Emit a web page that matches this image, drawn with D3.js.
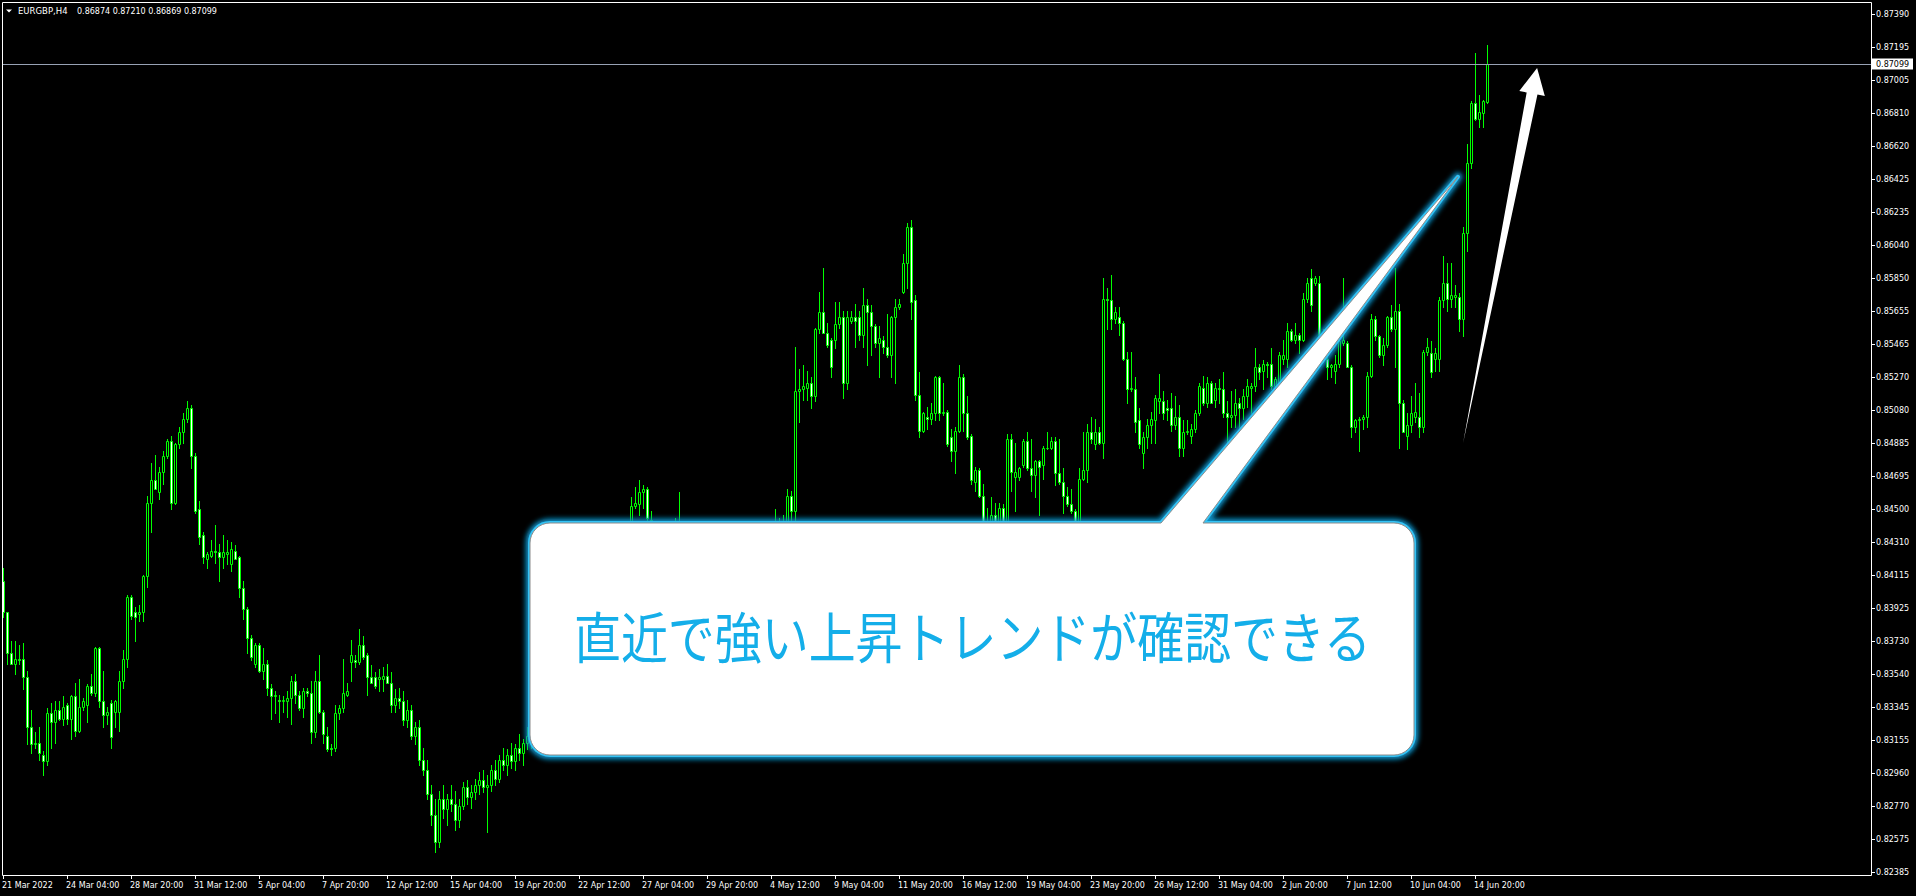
<!DOCTYPE html>
<html><head><meta charset="utf-8">
<script src="https://cdn.jsdelivr.net/npm/d3@7"></script>
<style>html,body{margin:0;padding:0;background:#000;overflow:hidden}</style>
</head><body>
<svg id="c" width="1916" height="896"></svg>
<script>
const SYMBOL = "EURGBP,H4";
const HEADER_OHLC = ["0.86874", "0.87210", "0.86869", "0.87099"];
const LAST_PRICE = 0.87099;
const CALLOUT_TEXT = "直近で強い上昇トレンドが確認できる";
const LABEL_STEP = 16; // bars between time labels
const TIME_LABELS = ["21 Mar 2022","24 Mar 04:00","28 Mar 20:00","31 Mar 12:00","5 Apr 04:00","7 Apr 20:00",
  "12 Apr 12:00","15 Apr 04:00","19 Apr 20:00","22 Apr 12:00","27 Apr 04:00","29 Apr 20:00","4 May 12:00",
  "9 May 04:00","11 May 20:00","16 May 12:00","19 May 04:00","23 May 20:00","26 May 12:00","31 May 04:00",
  "2 Jun 20:00","7 Jun 12:00","10 Jun 04:00","14 Jun 20:00"];
const PRICE_TICKS = [0.87390,0.87195,0.87005,0.86810,0.86620,0.86425,0.86235,0.86040,0.85850,0.85655,
  0.85465,0.85270,0.85080,0.84885,0.84695,0.84500,0.84310,0.84115,0.83925,0.83730,0.83540,0.83345,
  0.83155,0.82960,0.82770,0.82575,0.82385];

const OPEN = [0.8408,0.8390,0.8366,0.8360,0.8363,0.8363,0.8352,0.8323,0.8313,0.8314,
0.8307,0.8303,0.8331,0.8326,0.8333,0.8328,0.8336,0.8328,0.8341,0.8321,
0.8335,0.8336,0.8347,0.8343,0.8369,0.8338,0.8330,0.8337,0.8332,0.8332,
0.8350,0.8363,0.8399,0.8390,0.8389,0.8390,0.8411,0.8454,0.8467,0.8460,
0.8472,0.8481,0.8490,0.8454,0.8488,0.8495,0.8503,0.8509,0.8481,0.8450,
0.8435,0.8421,0.8423,0.8426,0.8425,0.8422,0.8424,0.8418,0.8426,0.8422,
0.8404,0.8392,0.8375,0.8360,0.8371,0.8356,0.8360,0.8346,0.8341,0.8339,
0.8338,0.8338,0.8340,0.8350,0.8342,0.8334,0.8344,0.8343,0.8320,0.8350,
0.8332,0.8318,0.8311,0.8311,0.8331,0.8334,0.8342,0.8361,0.8362,0.8361,
0.8371,0.8365,0.8352,0.8352,0.8351,0.8351,0.8353,0.8349,0.8336,0.8340,
0.8338,0.8327,0.8333,0.8318,0.8323,0.8304,0.8298,0.8284,0.8272,0.8256,
0.8281,0.8275,0.8281,0.8278,0.8269,0.8277,0.8288,0.8282,0.8285,0.8289,
0.8292,0.8288,0.8289,0.8298,0.8293,0.8304,0.8301,0.8307,0.8303,0.8311,
0.8308,0.8314,0.8318,0.8313,0.8321,0.8324,0.8321,0.8327,0.8336,0.8342,
0.8354,0.8348,0.8359,0.8365,0.8362,0.8377,0.8386,0.8383,0.8394,0.8403,
0.8400,0.8412,0.8409,0.8418,0.8426,0.8424,0.8429,0.8432,0.8452,0.8453,
0.8460,0.8462,0.8444,0.8432,0.8424,0.8428,0.8422,0.8415,0.8424,0.8429,
0.8425,0.8416,0.8406,0.8398,0.8403,0.8408,0.8403,0.8394,0.8398,0.8406,
0.8402,0.8409,0.8415,0.8412,0.8419,0.8418,0.8424,0.8428,0.8425,0.8429,
0.8432,0.8429,0.8435,0.8438,0.8443,0.8441,0.8438,0.8458,0.8449,0.8519,
0.8520,0.8521,0.8524,0.8516,0.8555,0.8565,0.8553,0.8549,0.8549,0.8558,
0.8562,0.8524,0.8560,0.8562,0.8562,0.8552,0.8569,0.8565,0.8557,0.8547,
0.8549,0.8545,0.8540,0.8562,0.8568,0.8577,0.8594,0.8615,0.8572,0.8517,
0.8496,0.8504,0.8503,0.8506,0.8527,0.8506,0.8507,0.8492,0.8484,0.8496,
0.8527,0.8506,0.8493,0.8466,0.8473,0.8458,0.8438,0.8435,0.8447,0.8438,
0.8451,0.8441,0.8491,0.8469,0.8469,0.8476,0.8490,0.8474,0.8470,0.8478,
0.8476,0.8486,0.8486,0.8490,0.8471,0.8466,0.8458,0.8453,0.8449,0.8437,
0.8468,0.8473,0.8495,0.8488,0.8495,0.8489,0.8573,0.8572,0.8561,0.8562,
0.8559,0.8538,0.8520,0.8520,0.8502,0.8483,0.8492,0.8499,0.8502,0.8513,
0.8513,0.8509,0.8509,0.8499,0.8504,0.8486,0.8495,0.8493,0.8497,0.8506,
0.8521,0.8512,0.8524,0.8514,0.8521,0.8520,0.8506,0.8504,0.8505,0.8512,
0.8509,0.8516,0.8521,0.8522,0.8533,0.8531,0.8535,0.8535,0.8522,0.8524,
0.8538,0.8538,0.8554,0.8549,0.8552,0.8549,0.8573,0.8585,0.8582,0.8582,
0.8551,0.8538,0.8533,0.8531,0.8535,0.8547,0.8547,0.8533,0.8498,0.8502,
0.8503,0.8504,0.8528,0.8561,0.8551,0.8540,0.8546,0.8562,0.8555,0.8566,
0.8512,0.8493,0.8499,0.8504,0.8504,0.8498,0.8542,0.8541,0.8538,0.8538,
0.8572,0.8582,0.8573,0.8574,0.8574,0.8561,0.8611,0.8652,0.8687,0.8678,
0.8681,0.86874];

const HIGH = [0.8416,0.8390,0.8373,0.8373,0.8371,0.8372,0.8356,0.8333,0.8320,0.8323,
0.8309,0.8334,0.8337,0.8338,0.8338,0.8341,0.8337,0.8342,0.8349,0.8351,
0.8340,0.8348,0.8354,0.8370,0.8370,0.8356,0.8335,0.8339,0.8339,0.8356,
0.8368,0.8400,0.8400,0.8393,0.8394,0.8412,0.8458,0.8477,0.8482,0.8475,
0.8484,0.8491,0.8493,0.8489,0.8498,0.8506,0.8513,0.8511,0.8483,0.8455,
0.8437,0.8425,0.8432,0.8441,0.8430,0.8435,0.8432,0.8431,0.8429,0.8423,
0.8408,0.8393,0.8377,0.8372,0.8372,0.8369,0.8362,0.8348,0.8344,0.8342,
0.8341,0.8344,0.8353,0.8354,0.8344,0.8346,0.8346,0.8350,0.8356,0.8365,
0.8333,0.8323,0.8313,0.8336,0.8336,0.8363,0.8349,0.8374,0.8365,0.8380,
0.8376,0.8366,0.8359,0.8355,0.8357,0.8358,0.8360,0.8355,0.8345,0.8346,
0.8344,0.8339,0.8336,0.8326,0.8327,0.8311,0.8304,0.8289,0.8281,0.8286,
0.8289,0.8284,0.8289,0.8286,0.8281,0.8291,0.8292,0.8289,0.8293,0.8297,
0.8298,0.8295,0.8301,0.8304,0.8307,0.8311,0.8310,0.8314,0.8313,0.8319,
0.8316,0.8323,0.8326,0.8324,0.8328,0.8332,0.8330,0.8339,0.8345,0.8356,
0.8359,0.8362,0.8368,0.8374,0.8380,0.8389,0.8394,0.8397,0.8406,0.8412,
0.8415,0.8424,0.8421,0.8429,0.8435,0.8433,0.8438,0.8457,0.8463,0.8467,
0.8464,0.8463,0.8449,0.8439,0.8432,0.8435,0.8429,0.8426,0.8445,0.8460,
0.8433,0.8424,0.8415,0.8409,0.8412,0.8418,0.8414,0.8403,0.8409,0.8415,
0.8412,0.8421,0.8424,0.8422,0.8429,0.8428,0.8432,0.8435,0.8433,0.8438,
0.8439,0.8438,0.8441,0.8450,0.8445,0.8447,0.8462,0.8461,0.8545,0.8532,
0.8534,0.8531,0.8527,0.8556,0.8577,0.8591,0.8559,0.8550,0.8571,0.8571,
0.8566,0.8566,0.8566,0.8570,0.8566,0.8579,0.8573,0.8569,0.8558,0.8557,
0.8551,0.8564,0.8563,0.8573,0.8573,0.8599,0.8617,0.8619,0.8575,0.8530,
0.8507,0.8510,0.8512,0.8528,0.8528,0.8524,0.8508,0.8497,0.8498,0.8534,
0.8529,0.8516,0.8494,0.8475,0.8474,0.8465,0.8451,0.8457,0.8454,0.8454,
0.8453,0.8494,0.8494,0.8489,0.8475,0.8491,0.8495,0.8491,0.8479,0.8479,
0.8487,0.8495,0.8492,0.8492,0.8491,0.8474,0.8463,0.8462,0.8450,0.8474,
0.8495,0.8500,0.8504,0.8503,0.8498,0.8585,0.8579,0.8587,0.8568,0.8568,
0.8560,0.8542,0.8542,0.8527,0.8509,0.8495,0.8503,0.8507,0.8517,0.8529,
0.8519,0.8514,0.8518,0.8516,0.8511,0.8502,0.8502,0.8500,0.8508,0.8524,
0.8528,0.8527,0.8525,0.8524,0.8526,0.8530,0.8513,0.8519,0.8520,0.8515,
0.8520,0.8526,0.8524,0.8544,0.8535,0.8537,0.8536,0.8544,0.8527,0.8542,
0.8549,0.8559,0.8555,0.8559,0.8553,0.8576,0.8585,0.8590,0.8586,0.8586,
0.8555,0.8539,0.8535,0.8540,0.8551,0.8585,0.8548,0.8534,0.8503,0.8504,
0.8505,0.8530,0.8564,0.8563,0.8552,0.8550,0.8563,0.8569,0.8591,0.8570,
0.8514,0.8506,0.8516,0.8524,0.8518,0.8543,0.8550,0.8548,0.8544,0.8574,
0.8598,0.8594,0.8594,0.8581,0.8576,0.8615,0.8663,0.8688,0.8716,0.8692,
0.8689,0.87210];

const LOW = [0.8387,0.8360,0.8360,0.8354,0.8360,0.8345,0.8313,0.8308,0.8311,0.8304,
0.8295,0.8301,0.8311,0.8314,0.8327,0.8324,0.8325,0.8316,0.8318,0.8320,
0.8333,0.8326,0.8342,0.8341,0.8335,0.8323,0.8325,0.8311,0.8323,0.8321,
0.8346,0.8358,0.8386,0.8373,0.8385,0.8385,0.8405,0.8437,0.8462,0.8456,
0.8465,0.8480,0.8450,0.8453,0.8486,0.8489,0.8501,0.8474,0.8448,0.8430,
0.8419,0.8416,0.8422,0.8419,0.8408,0.8416,0.8418,0.8414,0.8421,0.8399,
0.8386,0.8366,0.8362,0.8358,0.8355,0.8351,0.8342,0.8328,0.8331,0.8326,
0.8332,0.8329,0.8325,0.8337,0.8333,0.8329,0.8341,0.8314,0.8317,0.8331,
0.8314,0.8309,0.8307,0.8309,0.8328,0.8332,0.8341,0.8350,0.8358,0.8360,
0.8363,0.8342,0.8349,0.8346,0.8344,0.8344,0.8349,0.8332,0.8332,0.8334,
0.8324,0.8323,0.8316,0.8313,0.8301,0.8295,0.8281,0.8266,0.8250,0.8253,
0.8270,0.8266,0.8274,0.8263,0.8265,0.8275,0.8278,0.8276,0.8281,0.8284,
0.8285,0.8262,0.8286,0.8289,0.8291,0.8298,0.8295,0.8299,0.8298,0.8304,
0.8301,0.8310,0.8311,0.8309,0.8317,0.8318,0.8316,0.8324,0.8332,0.8339,
0.8345,0.8345,0.8355,0.8359,0.8361,0.8371,0.8380,0.8379,0.8391,0.8398,
0.8397,0.8406,0.8403,0.8415,0.8421,0.8418,0.8425,0.8429,0.8451,0.8447,
0.8451,0.8442,0.8429,0.8421,0.8415,0.8419,0.8412,0.8409,0.8418,0.8421,
0.8412,0.8403,0.8394,0.8388,0.8397,0.8400,0.8391,0.8386,0.8394,0.8397,
0.8390,0.8403,0.8406,0.8408,0.8415,0.8410,0.8418,0.8421,0.8419,0.8424,
0.8426,0.8425,0.8429,0.8435,0.8438,0.8432,0.8435,0.8444,0.8442,0.8501,
0.8514,0.8514,0.8509,0.8513,0.8553,0.8553,0.8545,0.8527,0.8544,0.8556,
0.8515,0.8520,0.8559,0.8545,0.8549,0.8545,0.8534,0.8540,0.8545,0.8527,
0.8541,0.8539,0.8527,0.8524,0.8567,0.8576,0.8579,0.8561,0.8514,0.8492,
0.8495,0.8497,0.8500,0.8502,0.8502,0.8505,0.8487,0.8478,0.8471,0.8495,
0.8496,0.8491,0.8465,0.8461,0.8457,0.8432,0.8429,0.8429,0.8432,0.8433,
0.8438,0.8438,0.8461,0.8449,0.8467,0.8475,0.8473,0.8461,0.8457,0.8447,
0.8468,0.8485,0.8485,0.8464,0.8465,0.8448,0.8452,0.8448,0.8432,0.8432,
0.8467,0.8466,0.8489,0.8485,0.8488,0.8480,0.8555,0.8555,0.8559,0.8552,
0.8537,0.8512,0.8519,0.8495,0.8486,0.8474,0.8486,0.8489,0.8489,0.8506,
0.8503,0.8502,0.8496,0.8497,0.8481,0.8481,0.8494,0.8489,0.8495,0.8505,
0.8511,0.8510,0.8512,0.8510,0.8512,0.8504,0.8489,0.8498,0.8498,0.8498,
0.8503,0.8510,0.8506,0.8519,0.8526,0.8520,0.8527,0.8520,0.8521,0.8523,
0.8535,0.8533,0.8548,0.8547,0.8541,0.8548,0.8571,0.8566,0.8581,0.8549,
0.8536,0.8526,0.8527,0.8524,0.8533,0.8546,0.8533,0.8492,0.8495,0.8484,
0.8497,0.8498,0.8527,0.8549,0.8539,0.8534,0.8545,0.8554,0.8533,0.8486,
0.8495,0.8485,0.8495,0.8501,0.8492,0.8495,0.8540,0.8527,0.8531,0.8531,
0.8568,0.8566,0.8568,0.8568,0.8554,0.8551,0.8601,0.8649,0.8677,0.8673,
0.8673,0.86869];

const CLOSE = [0.8390,0.8366,0.8360,0.8363,0.8362,0.8352,0.8323,0.8313,0.8314,0.8308,
0.8303,0.8331,0.8326,0.8333,0.8328,0.8335,0.8328,0.8341,0.8321,0.8335,
0.8338,0.8347,0.8343,0.8369,0.8338,0.8330,0.8332,0.8317,0.8338,0.8350,
0.8363,0.8399,0.8388,0.8387,0.8390,0.8411,0.8454,0.8467,0.8462,0.8472,
0.8481,0.8490,0.8454,0.8488,0.8495,0.8503,0.8509,0.8481,0.8449,0.8434,
0.8422,0.8424,0.8426,0.8425,0.8422,0.8425,0.8425,0.8427,0.8421,0.8404,
0.8392,0.8375,0.8364,0.8371,0.8356,0.8360,0.8346,0.8341,0.8342,0.8338,
0.8339,0.8340,0.8350,0.8342,0.8334,0.8344,0.8343,0.8320,0.8350,0.8332,
0.8319,0.8310,0.8310,0.8331,0.8334,0.8343,0.8344,0.8365,0.8361,0.8371,
0.8364,0.8352,0.8349,0.8347,0.8352,0.8353,0.8349,0.8336,0.8340,0.8338,
0.8327,0.8333,0.8318,0.8323,0.8304,0.8298,0.8284,0.8272,0.8256,0.8281,
0.8275,0.8281,0.8278,0.8269,0.8277,0.8288,0.8282,0.8285,0.8289,0.8292,
0.8288,0.8289,0.8298,0.8293,0.8304,0.8301,0.8307,0.8303,0.8311,0.8308,
0.8314,0.8318,0.8313,0.8321,0.8324,0.8321,0.8327,0.8336,0.8342,0.8354,
0.8348,0.8359,0.8365,0.8362,0.8377,0.8386,0.8383,0.8394,0.8403,0.8400,
0.8412,0.8409,0.8418,0.8426,0.8424,0.8429,0.8432,0.8452,0.8454,0.8460,
0.8462,0.8445,0.8432,0.8424,0.8428,0.8422,0.8415,0.8424,0.8429,0.8425,
0.8416,0.8406,0.8398,0.8403,0.8408,0.8403,0.8394,0.8398,0.8406,0.8402,
0.8409,0.8415,0.8412,0.8419,0.8418,0.8424,0.8428,0.8425,0.8429,0.8432,
0.8429,0.8435,0.8438,0.8443,0.8441,0.8438,0.8458,0.8449,0.8519,0.8520,
0.8522,0.8524,0.8516,0.8555,0.8565,0.8553,0.8546,0.8533,0.8558,0.8562,
0.8524,0.8562,0.8562,0.8560,0.8552,0.8569,0.8565,0.8557,0.8547,0.8550,
0.8545,0.8540,0.8562,0.8568,0.8570,0.8594,0.8615,0.8571,0.8517,0.8496,
0.8506,0.8503,0.8506,0.8527,0.8506,0.8507,0.8488,0.8484,0.8496,0.8527,
0.8506,0.8492,0.8467,0.8473,0.8458,0.8438,0.8435,0.8447,0.8438,0.8451,
0.8441,0.8491,0.8472,0.8472,0.8474,0.8490,0.8474,0.8470,0.8478,0.8475,
0.8486,0.8486,0.8490,0.8471,0.8466,0.8458,0.8453,0.8449,0.8437,0.8468,
0.8473,0.8495,0.8491,0.8495,0.8489,0.8573,0.8572,0.8561,0.8565,0.8559,
0.8538,0.8520,0.8521,0.8501,0.8488,0.8492,0.8499,0.8503,0.8515,0.8515,
0.8506,0.8508,0.8499,0.8504,0.8486,0.8495,0.8496,0.8497,0.8506,0.8522,
0.8512,0.8524,0.8512,0.8521,0.8520,0.8506,0.8504,0.8505,0.8512,0.8509,
0.8516,0.8522,0.8522,0.8533,0.8530,0.8535,0.8534,0.8522,0.8526,0.8540,
0.8540,0.8554,0.8549,0.8552,0.8549,0.8573,0.8582,0.8569,0.8585,0.8551,
0.8538,0.8533,0.8534,0.8535,0.8548,0.8549,0.8533,0.8498,0.8502,0.8503,
0.8504,0.8528,0.8561,0.8551,0.8540,0.8546,0.8562,0.8555,0.8566,0.8512,
0.8495,0.8499,0.8506,0.8507,0.8498,0.8542,0.8545,0.8530,0.8541,0.8572,
0.8582,0.8573,0.8575,0.8575,0.8561,0.8611,0.8652,0.8687,0.8678,0.8682,
0.8688,0.87099];

// annotation anchors in data space (bar index, price)
const CALLOUT_TIP = {bar: 363.6, price: 0.86440};
const ARROW = {fromBar: 364.9, fromPrice: 0.84888, toBar: 383.4, toPrice: 0.87075};

// ---------------------------------------------------------------
const W = 1916, H = 896;
const FRAME = {left: 2, top: 2, right: 1871, bottom: 875};
const GREEN = "#00ff00";
const N = OPEN.length;

const svg = d3.select("#c");
svg.append("rect").attr("width", W).attr("height", H).attr("fill", "#000");

const defs = svg.append("defs");
const f = defs.append("filter").attr("id", "glow").attr("x", "-5%").attr("y", "-5%").attr("width", "110%").attr("height", "110%");
f.append("feGaussianBlur").attr("stdDeviation", 2.6);

const x = d3.scaleLinear().domain([0, N - 1]).range([3.5, 3.5 + 4 * (N - 1)]);
const y = d3.scaleLinear().domain([0.82385, 0.87390]).range([872, 14]);
const Y = p => Math.round(y(p)) + 0.5;

const bars = OPEN.map((o, i) => ({i, o, h: HIGH[i], l: LOW[i], c: CLOSE[i]}));

// wicks
const gC = svg.append("g");
gC.selectAll("line.w").data(bars).join("line")
  .attr("x1", d => x(d.i)).attr("x2", d => x(d.i))
  .attr("y1", d => Y(Math.max(d.h, d.o, d.c)) - 0.5)
  .attr("y2", d => Y(Math.min(d.l, d.o, d.c)) + 0.5)
  .attr("stroke", GREEN).attr("stroke-width", 1);
// bodies
gC.selectAll("path.b").data(bars).join("path")
  .attr("d", d => {
    const t = Y(Math.max(d.o, d.c)), b = Y(Math.min(d.o, d.c));
    const cx = x(d.i);
    return `M${cx - 1},${t}H${cx + 1}V${b}H${cx - 1}Z`;
  })
  .attr("fill", d => d.c >= d.o ? "#000" : "#fff")
  .attr("stroke", GREEN).attr("stroke-width", 1);

// bid line
svg.append("line").attr("x1", FRAME.left).attr("x2", FRAME.right)
  .attr("y1", Y(LAST_PRICE)).attr("y2", Y(LAST_PRICE))
  .attr("stroke", "#98a2b4").attr("stroke-width", 1);

// callout with tail
const box = {x: 530, y: 523, w: 884, h: 232, r: 20};
const tip = [x(CALLOUT_TIP.bar), y(CALLOUT_TIP.price)];
const tailL = 1161, tailR = 1203;
const r = box.r, bx = box.x, by = box.y, bw = box.w, bh = box.h;
const calloutPath = `M${bx + r},${by} L${tailL},${by} L${tip[0]},${tip[1]} L${tailR},${by} L${bx + bw - r},${by}
  A${r},${r} 0 0 1 ${bx + bw},${by + r} L${bx + bw},${by + bh - r} A${r},${r} 0 0 1 ${bx + bw - r},${by + bh}
  L${bx + r},${by + bh} A${r},${r} 0 0 1 ${bx},${by + bh - r} L${bx},${by + r} A${r},${r} 0 0 1 ${bx + r},${by} Z`;
svg.append("path").attr("d", calloutPath).attr("fill", "none")
  .attr("stroke", "#0d8fc4").attr("stroke-width", 9).attr("stroke-linejoin", "round").attr("filter", "url(#glow)");
svg.append("path").attr("d", calloutPath).attr("fill", "none")
  .attr("stroke", "#34c3f5").attr("stroke-width", 4).attr("stroke-linejoin", "round");
svg.append("path").attr("d", calloutPath).attr("fill", "#fff")
  .attr("stroke", "#8c8c8c").attr("stroke-width", 1);
svg.append("text").attr("x", 574).attr("y", 634)
  .attr("font-family", "'Noto Sans CJK JP','Noto Sans CJK SC',sans-serif")
  .attr("font-size", 55).attr("fill", "#14aee9")
  .attr("dominant-baseline", "central")
  .attr("textLength", 797).attr("lengthAdjust", "spacingAndGlyphs")
  .text(CALLOUT_TEXT);

// white arrow
(function () {
  const p0 = [x(ARROW.fromBar), y(ARROW.fromPrice)];
  const p1 = [x(ARROW.toBar), y(ARROW.toPrice)];
  const dx = p1[0] - p0[0], dy = p1[1] - p0[1], L = Math.hypot(dx, dy);
  const u = [dx / L, dy / L], n = [-u[1], u[0]];
  const headLen = 26, headHalf = 13, shaftHalf = 5.5;
  const base = [p1[0] - u[0] * headLen, p1[1] - u[1] * headLen];
  const pt = (p, s) => [p[0] + n[0] * s, p[1] + n[1] * s];
  const pts = [p0, pt(base, shaftHalf), pt(base, headHalf), p1, pt(base, -headHalf), pt(base, -shaftHalf)];
  svg.append("path").attr("d", d3.line()(pts) + "Z").attr("fill", "#fff");
})();

// frame
svg.append("path")
  .attr("d", `M${FRAME.left + 0.5},${FRAME.bottom + 0.5}V${FRAME.top + 0.5}H${FRAME.right + 0.5}V${FRAME.bottom + 0.5}H${FRAME.left + 0.5}`)
  .attr("fill", "none").attr("stroke", "#fff").attr("stroke-width", 1);

// right price axis
const yAxisScale = y.copy().interpolate(d3.interpolateRound);
const gy = svg.append("g").attr("transform", `translate(${FRAME.right},0)`)
  .call(d3.axisRight(yAxisScale).tickValues(PRICE_TICKS).tickFormat(d => d.toFixed(5)).tickSize(4).tickPadding(1));
gy.select(".domain").remove();
gy.attr("font-family", "'DejaVu Sans',sans-serif").attr("font-size", 8).attr("color", "#fff");
gy.selectAll("text").attr("fill", "#fff");

// bottom time axis
const xAxisScale = d3.scaleLinear().domain(x.domain()).range(x.range().map(v => v - 0.5));
const gx = svg.append("g").attr("transform", `translate(0,${FRAME.bottom})`)
  .call(d3.axisBottom(xAxisScale).tickValues(TIME_LABELS.map((_, k) => k * LABEL_STEP))
    .tickFormat((d, k) => TIME_LABELS[k]).tickSize(4));
gx.select(".domain").remove();
gx.attr("font-family", "'DejaVu Sans',sans-serif").attr("font-size", 8).attr("color", "#fff");
gx.selectAll("text").attr("text-anchor", "start").attr("x", -1.5).attr("y", 13).attr("dy", 0).attr("fill", "#fff");

// last price label
const ly = Y(LAST_PRICE);
svg.append("rect").attr("x", FRAME.right + 1).attr("y", ly - 6).attr("width", 41).attr("height", 11).attr("fill", "#fff");
svg.append("text").attr("x", FRAME.right + 5).attr("y", ly).attr("dy", "0.32em")
  .attr("font-family", "'DejaVu Sans',sans-serif").attr("font-size", 8).attr("fill", "#000")
  .text(LAST_PRICE.toFixed(5));

// header
svg.append("path").attr("d", "M6,9.5H12L9,12.5Z").attr("fill", "#fff");
svg.append("text").attr("x", 18).attr("y", 14)
  .attr("font-family", "'DejaVu Sans',sans-serif").attr("font-size", 8.5).attr("fill", "#fff")
  .text(SYMBOL);
svg.append("text").attr("x", 77).attr("y", 14)
  .attr("font-family", "'DejaVu Sans',sans-serif").attr("font-size", 8).attr("fill", "#fff")
  .attr("xml:space", "preserve")
  .text(HEADER_OHLC.join(" "));
</script>
</body></html>
